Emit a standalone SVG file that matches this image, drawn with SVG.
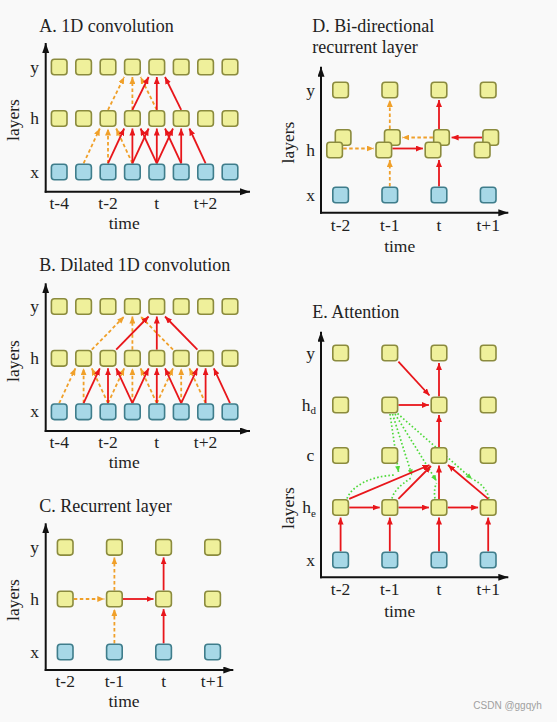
<svg xmlns="http://www.w3.org/2000/svg" width="557" height="722" viewBox="0 0 557 722">
<defs>
<style>
.by{fill:#eff09b;stroke:#8b8b3e;stroke-width:1.6}
.bb{fill:#a7d8e7;stroke:#3f7d8b;stroke-width:1.6}
.r{stroke:#e8161b;stroke-width:1.8;fill:none;marker-end:url(#mr)}
.o{stroke:#f0a02a;stroke-width:1.8;stroke-dasharray:3.5 2.5;fill:none;marker-end:url(#mo)}
.g{stroke:#4fd93a;stroke-width:1.7;stroke-dasharray:1.6 2.2;fill:none}
.gm{marker-end:url(#mg)}
.ax{stroke:#111;stroke-width:2;fill:none}
.axm{marker-end:url(#mk)}
text{font-family:"Liberation Serif","Times New Roman",serif;fill:#222}
.t{font-size:18px}
.l{font-size:17.5px;text-anchor:middle}
.le{font-size:17.5px;text-anchor:end}
.wm{font-family:"Liberation Sans",Arial,sans-serif;font-size:10px;fill:#a0a0a0}
</style>
<marker id="mr" markerUnits="userSpaceOnUse" markerWidth="8" markerHeight="6" refX="7" refY="3" orient="auto"><path d="M0,0 L7,3 L0,6 z" fill="#e8161b"/></marker>
<marker id="mo" markerUnits="userSpaceOnUse" markerWidth="8" markerHeight="6" refX="7" refY="3" orient="auto"><path d="M0,0 L7,3 L0,6 z" fill="#f0a02a"/></marker>
<marker id="mg" markerUnits="userSpaceOnUse" markerWidth="7" markerHeight="6" refX="6" refY="2.5" orient="auto"><path d="M0,0 L6,2.5 L0,5 z" fill="#4fd93a"/></marker>
<marker id="mk" markerUnits="userSpaceOnUse" markerWidth="11" markerHeight="8" refX="10" refY="3.5" orient="auto"><path d="M0,0 L10,3.5 L0,7 z" fill="#111"/></marker>
</defs>
<rect width="557" height="722" fill="#f9f9f9"/>

<g id="axes">
<path class="ax axm" d="M45.7,192.7 V43"/><path class="ax axm" d="M44.7,191.7 H250"/>
<path class="ax axm" d="M45.7,432 V283.3"/><path class="ax axm" d="M44.7,431 H250"/>
<path class="ax axm" d="M45.7,671 V523.3"/><path class="ax axm" d="M44.7,670 H233.3"/>
<path class="ax axm" d="M321,213.7 V66.7"/><path class="ax axm" d="M320,212.7 H508.3"/>
<path class="ax axm" d="M321,578.3 V331.7"/><path class="ax axm" d="M320,577.3 H508.3"/>
</g>

<g id="connectors">
<!-- A -->
<path class="o" d="M83.6,163.4 L99.8,128.5"/>
<path class="o" d="M108,163.4 L108,128.5"/>
<path class="o" d="M132.4,163.4 L116.2,128.5"/>
<path class="o" d="M108,109.9 L124.2,77"/>
<path class="o" d="M132.4,109.9 L132.4,77"/>
<path class="o" d="M156.8,109.9 L140.6,77"/>
<path class="r" d="M108,163.4 L124.2,128.5"/>
<path class="r" d="M132.4,163.4 L132.4,128.5"/>
<path class="r" d="M156.8,163.4 L140.6,128.5"/>
<path class="r" d="M132.4,163.4 L148.6,128.5"/>
<path class="r" d="M156.8,163.4 L156.8,128.5"/>
<path class="r" d="M181.2,163.4 L165,128.5"/>
<path class="r" d="M156.8,163.4 L173,128.5"/>
<path class="r" d="M181.2,163.4 L181.2,128.5"/>
<path class="r" d="M205.6,163.4 L189.4,128.5"/>
<path class="r" d="M132.4,109.9 L148.6,77"/>
<path class="r" d="M156.8,109.9 L156.8,77"/>
<path class="r" d="M181.2,109.9 L165,77"/>
<!-- B -->
<path class="o" d="M59.2,403.2 L75.4,368.3"/>
<path class="o" d="M83.6,403.2 L83.6,368.3"/>
<path class="o" d="M108,403.2 L91.8,368.3"/>
<path class="o" d="M108,403.2 L124.2,368.3"/>
<path class="o" d="M132.4,403.2 L132.4,368.3"/>
<path class="o" d="M156.8,403.2 L140.6,368.3"/>
<path class="o" d="M156.8,403.2 L173,368.3"/>
<path class="o" d="M181.2,403.2 L181.2,368.3"/>
<path class="o" d="M205.6,403.2 L189.4,368.3"/>
<path class="o" d="M91.8,349.7 L124.2,316.5"/>
<path class="o" d="M132.4,349.7 L132.4,316.5"/>
<path class="o" d="M173,349.7 L140.6,316.5"/>
<path class="r" d="M83.6,403.2 L99.8,368.3"/>
<path class="r" d="M108,403.2 L108,368.3"/>
<path class="r" d="M132.4,403.2 L116.2,368.3"/>
<path class="r" d="M132.4,403.2 L148.6,368.3"/>
<path class="r" d="M156.8,403.2 L156.8,368.3"/>
<path class="r" d="M181.2,403.2 L165,368.3"/>
<path class="r" d="M181.2,403.2 L197.4,368.3"/>
<path class="r" d="M205.6,403.2 L205.6,368.3"/>
<path class="r" d="M230,403.2 L213.8,368.3"/>
<path class="r" d="M116.2,349.7 L148.6,316.5"/>
<path class="r" d="M156.8,349.7 L156.8,316.5"/>
<path class="r" d="M197.4,349.7 L165,316.5"/>
<!-- C -->
<path class="o" d="M73.8,599 L104.3,599"/>
<path class="o" d="M114.4,643.4 L114.4,609.1"/>
<path class="o" d="M114.4,590.4 L114.4,557.4"/>
<path class="r" d="M123,599 L153.5,599"/>
<path class="r" d="M163.6,643.4 L163.6,609.1"/>
<path class="r" d="M163.6,590.4 L163.6,557.4"/>
<!-- D -->
<path class="o" d="M343.2,148.5 L373.7,148.5"/>
<path class="o" d="M389.8,186.4 L389.8,160"/>
<path class="o" d="M389.8,129 L389.8,100"/>
<path class="o" d="M432.9,137.5 L402.4,137.5"/>
<path class="r" d="M392.4,148.5 L422.9,148.5"/>
<path class="r" d="M482.1,137.5 L451.6,137.5"/>
<path class="r" d="M439,186.4 L439,160"/>
<path class="r" d="M439,129 L439,100"/>
<!-- E -->
<path class="g gm" d="M390,414 L398.5,472"/>
<path class="g gm" d="M392.5,414 L412,475.5"/>
<path class="g gm" d="M395,414 L436.5,481"/>
<path class="g gm" d="M397.5,413.5 L472,479"/>
<path class="g" d="M347,498.5 C352,486 370,476 396,475"/>
<path class="g" d="M392,498.5 Q394,489 411,478"/>
<path class="g" d="M435,498.5 Q433.5,490 436.5,483"/>
<path class="g" d="M489,498.5 Q486,486 474,480"/>
<path class="r" d="M398.4,361.6 L429.5,395.5"/>
<path class="r" d="M398.4,405 L428.9,405"/>
<path class="r" d="M439,396.4 L439,363.1"/>
<path class="r" d="M439,446.9 L439,415.1"/>
<path class="r" d="M439,498.9 L439,465.6"/>
<path class="r" d="M349.2,498.9 L429.5,465"/>
<path class="r" d="M398.4,498.9 L431,466"/>
<path class="r" d="M488.2,498.9 L448,465"/>
<path class="r" d="M349.2,507.5 L379.7,507.5"/>
<path class="r" d="M398.4,507.5 L428.9,507.5"/>
<path class="r" d="M447.6,507.5 L478.1,507.5"/>
<path class="r" d="M340.6,551.4 L340.6,517.6"/>
<path class="r" d="M389.8,551.4 L389.8,517.6"/>
<path class="r" d="M439,551.4 L439,517.6"/>
<path class="r" d="M488.2,551.4 L488.2,517.6"/>
</g>

<g id="panelA">
<g id="A-y0"><rect class="by" x="51.4" y="59.2" width="15.6" height="15.6" rx="3"/></g>
<g id="A-y1"><rect class="by" x="75.8" y="59.2" width="15.6" height="15.6" rx="3"/></g>
<g id="A-y2"><rect class="by" x="100.2" y="59.2" width="15.6" height="15.6" rx="3"/></g>
<g id="A-y3"><rect class="by" x="124.6" y="59.2" width="15.6" height="15.6" rx="3"/></g>
<g id="A-y4"><rect class="by" x="149" y="59.2" width="15.6" height="15.6" rx="3"/></g>
<g id="A-y5"><rect class="by" x="173.4" y="59.2" width="15.6" height="15.6" rx="3"/></g>
<g id="A-y6"><rect class="by" x="197.8" y="59.2" width="15.6" height="15.6" rx="3"/></g>
<g id="A-y7"><rect class="by" x="222.2" y="59.2" width="15.6" height="15.6" rx="3"/></g>
<g id="A-h0"><rect class="by" x="51.4" y="110.7" width="15.6" height="15.6" rx="3"/></g>
<g id="A-h1"><rect class="by" x="75.8" y="110.7" width="15.6" height="15.6" rx="3"/></g>
<g id="A-h2"><rect class="by" x="100.2" y="110.7" width="15.6" height="15.6" rx="3"/></g>
<g id="A-h3"><rect class="by" x="124.6" y="110.7" width="15.6" height="15.6" rx="3"/></g>
<g id="A-h4"><rect class="by" x="149" y="110.7" width="15.6" height="15.6" rx="3"/></g>
<g id="A-h5"><rect class="by" x="173.4" y="110.7" width="15.6" height="15.6" rx="3"/></g>
<g id="A-h6"><rect class="by" x="197.8" y="110.7" width="15.6" height="15.6" rx="3"/></g>
<g id="A-h7"><rect class="by" x="222.2" y="110.7" width="15.6" height="15.6" rx="3"/></g>
<g id="A-x0"><rect class="bb" x="51.4" y="164.2" width="15.6" height="15.6" rx="3"/></g>
<g id="A-x1"><rect class="bb" x="75.8" y="164.2" width="15.6" height="15.6" rx="3"/></g>
<g id="A-x2"><rect class="bb" x="100.2" y="164.2" width="15.6" height="15.6" rx="3"/></g>
<g id="A-x3"><rect class="bb" x="124.6" y="164.2" width="15.6" height="15.6" rx="3"/></g>
<g id="A-x4"><rect class="bb" x="149" y="164.2" width="15.6" height="15.6" rx="3"/></g>
<g id="A-x5"><rect class="bb" x="173.4" y="164.2" width="15.6" height="15.6" rx="3"/></g>
<g id="A-x6"><rect class="bb" x="197.8" y="164.2" width="15.6" height="15.6" rx="3"/></g>
<g id="A-x7"><rect class="bb" x="222.2" y="164.2" width="15.6" height="15.6" rx="3"/></g>
<text class="t" x="39.3" y="32.3">A. 1D convolution</text>
<text class="l" x="34.5" y="72.5">y</text>
<text class="l" x="34.5" y="124">h</text>
<text class="l" x="34.5" y="177.5">x</text>
<text class="l" transform="translate(18.5,120) rotate(-90)">layers</text>
<text class="l" x="59.2" y="208.5">t-4</text>
<text class="l" x="108" y="208.5">t-2</text>
<text class="l" x="156.8" y="208.5">t</text>
<text class="l" x="205.6" y="208.5">t+2</text>
<text class="l" x="124.2" y="229">time</text>
</g>

<g id="panelB">
<g id="B-y0"><rect class="by" x="51.4" y="298.7" width="15.6" height="15.6" rx="3"/></g>
<g id="B-y1"><rect class="by" x="75.8" y="298.7" width="15.6" height="15.6" rx="3"/></g>
<g id="B-y2"><rect class="by" x="100.2" y="298.7" width="15.6" height="15.6" rx="3"/></g>
<g id="B-y3"><rect class="by" x="124.6" y="298.7" width="15.6" height="15.6" rx="3"/></g>
<g id="B-y4"><rect class="by" x="149" y="298.7" width="15.6" height="15.6" rx="3"/></g>
<g id="B-y5"><rect class="by" x="173.4" y="298.7" width="15.6" height="15.6" rx="3"/></g>
<g id="B-y6"><rect class="by" x="197.8" y="298.7" width="15.6" height="15.6" rx="3"/></g>
<g id="B-y7"><rect class="by" x="222.2" y="298.7" width="15.6" height="15.6" rx="3"/></g>
<g id="B-h0"><rect class="by" x="51.4" y="350.5" width="15.6" height="15.6" rx="3"/></g>
<g id="B-h1"><rect class="by" x="75.8" y="350.5" width="15.6" height="15.6" rx="3"/></g>
<g id="B-h2"><rect class="by" x="100.2" y="350.5" width="15.6" height="15.6" rx="3"/></g>
<g id="B-h3"><rect class="by" x="124.6" y="350.5" width="15.6" height="15.6" rx="3"/></g>
<g id="B-h4"><rect class="by" x="149" y="350.5" width="15.6" height="15.6" rx="3"/></g>
<g id="B-h5"><rect class="by" x="173.4" y="350.5" width="15.6" height="15.6" rx="3"/></g>
<g id="B-h6"><rect class="by" x="197.8" y="350.5" width="15.6" height="15.6" rx="3"/></g>
<g id="B-h7"><rect class="by" x="222.2" y="350.5" width="15.6" height="15.6" rx="3"/></g>
<g id="B-x0"><rect class="bb" x="51.4" y="404" width="15.6" height="15.6" rx="3"/></g>
<g id="B-x1"><rect class="bb" x="75.8" y="404" width="15.6" height="15.6" rx="3"/></g>
<g id="B-x2"><rect class="bb" x="100.2" y="404" width="15.6" height="15.6" rx="3"/></g>
<g id="B-x3"><rect class="bb" x="124.6" y="404" width="15.6" height="15.6" rx="3"/></g>
<g id="B-x4"><rect class="bb" x="149" y="404" width="15.6" height="15.6" rx="3"/></g>
<g id="B-x5"><rect class="bb" x="173.4" y="404" width="15.6" height="15.6" rx="3"/></g>
<g id="B-x6"><rect class="bb" x="197.8" y="404" width="15.6" height="15.6" rx="3"/></g>
<g id="B-x7"><rect class="bb" x="222.2" y="404" width="15.6" height="15.6" rx="3"/></g>
<text class="t" x="39.3" y="270.7">B. Dilated 1D convolution</text>
<text class="l" x="34.5" y="312">y</text>
<text class="l" x="34.5" y="363.8">h</text>
<text class="l" x="34.5" y="417.3">x</text>
<text class="l" transform="translate(18.5,361) rotate(-90)">layers</text>
<text class="l" x="59.2" y="447.8">t-4</text>
<text class="l" x="108" y="447.8">t-2</text>
<text class="l" x="156.8" y="447.8">t</text>
<text class="l" x="205.6" y="447.8">t+2</text>
<text class="l" x="124.2" y="468.3">time</text>
</g>

<g id="panelC">
<g id="C-y0"><rect class="by" x="57.4" y="539.5" width="15.6" height="15.6" rx="3"/></g>
<g id="C-y1"><rect class="by" x="106.6" y="539.5" width="15.6" height="15.6" rx="3"/></g>
<g id="C-y2"><rect class="by" x="155.8" y="539.5" width="15.6" height="15.6" rx="3"/></g>
<g id="C-y3"><rect class="by" x="204.8" y="539.5" width="15.6" height="15.6" rx="3"/></g>
<g id="C-h0"><rect class="by" x="57.4" y="591.2" width="15.6" height="15.6" rx="3"/></g>
<g id="C-h1"><rect class="by" x="106.6" y="591.2" width="15.6" height="15.6" rx="3"/></g>
<g id="C-h2"><rect class="by" x="155.8" y="591.2" width="15.6" height="15.6" rx="3"/></g>
<g id="C-h3"><rect class="by" x="204.8" y="591.2" width="15.6" height="15.6" rx="3"/></g>
<g id="C-x0"><rect class="bb" x="57.4" y="644.2" width="15.6" height="15.6" rx="3"/></g>
<g id="C-x1"><rect class="bb" x="106.6" y="644.2" width="15.6" height="15.6" rx="3"/></g>
<g id="C-x2"><rect class="bb" x="155.8" y="644.2" width="15.6" height="15.6" rx="3"/></g>
<g id="C-x3"><rect class="bb" x="204.8" y="644.2" width="15.6" height="15.6" rx="3"/></g>
<text class="t" x="39.3" y="511.7">C. Recurrent layer</text>
<text class="l" x="34.5" y="552.8">y</text>
<text class="l" x="34.5" y="604.5">h</text>
<text class="l" x="34.5" y="657.5">x</text>
<text class="l" transform="translate(18.5,600) rotate(-90)">layers</text>
<text class="l" x="65.2" y="686.8">t-2</text>
<text class="l" x="114.4" y="686.8">t-1</text>
<text class="l" x="163.6" y="686.8">t</text>
<text class="l" x="212.6" y="686.8">t+1</text>
<text class="l" x="124" y="707.3">time</text>
</g>

<g id="panelD">
<g id="D-y0"><rect class="by" x="332.8" y="82.2" width="15.6" height="15.6" rx="3"/></g>
<g id="D-y1"><rect class="by" x="382" y="82.2" width="15.6" height="15.6" rx="3"/></g>
<g id="D-y2"><rect class="by" x="431.2" y="82.2" width="15.6" height="15.6" rx="3"/></g>
<g id="D-y3"><rect class="by" x="480.4" y="82.2" width="15.6" height="15.6" rx="3"/></g>
<g id="D-hb0"><rect class="by" x="335.3" y="129.7" width="15.6" height="15.6" rx="3"/></g>
<g id="D-hb1"><rect class="by" x="384.5" y="129.7" width="15.6" height="15.6" rx="3"/></g>
<g id="D-hb2"><rect class="by" x="433.7" y="129.7" width="15.6" height="15.6" rx="3"/></g>
<g id="D-hb3"><rect class="by" x="482.9" y="129.7" width="15.6" height="15.6" rx="3"/></g>
<g id="D-hf0"><rect class="by" x="326.8" y="142.2" width="15.6" height="15.6" rx="3"/></g>
<g id="D-hf1"><rect class="by" x="376" y="142.2" width="15.6" height="15.6" rx="3"/></g>
<g id="D-hf2"><rect class="by" x="425.2" y="142.2" width="15.6" height="15.6" rx="3"/></g>
<g id="D-hf3"><rect class="by" x="474.4" y="142.2" width="15.6" height="15.6" rx="3"/></g>
<g id="D-x0"><rect class="bb" x="332.8" y="187.2" width="15.6" height="15.6" rx="3"/></g>
<g id="D-x1"><rect class="bb" x="382" y="187.2" width="15.6" height="15.6" rx="3"/></g>
<g id="D-x2"><rect class="bb" x="431.2" y="187.2" width="15.6" height="15.6" rx="3"/></g>
<g id="D-x3"><rect class="bb" x="480.4" y="187.2" width="15.6" height="15.6" rx="3"/></g>
<text class="t" x="312.3" y="31.7">D. Bi-directional</text>
<text class="t" x="312.3" y="53.3">recurrent layer</text>
<text class="l" x="310.5" y="95.5">y</text>
<text class="l" x="310.5" y="155.5">h</text>
<text class="l" x="310.5" y="200.5">x</text>
<text class="l" transform="translate(294,142.5) rotate(-90)">layers</text>
<text class="l" x="340.6" y="231">t-2</text>
<text class="l" x="389.8" y="231">t-1</text>
<text class="l" x="439" y="231">t</text>
<text class="l" x="488.2" y="231">t+1</text>
<text class="l" x="399.7" y="251.5">time</text>
</g>

<g id="panelE">
<g id="E-y0"><rect class="by" x="332.8" y="345.2" width="15.6" height="15.6" rx="3"/></g>
<g id="E-y1"><rect class="by" x="382" y="345.2" width="15.6" height="15.6" rx="3"/></g>
<g id="E-y2"><rect class="by" x="431.2" y="345.2" width="15.6" height="15.6" rx="3"/></g>
<g id="E-y3"><rect class="by" x="480.4" y="345.2" width="15.6" height="15.6" rx="3"/></g>
<g id="E-hd0"><rect class="by" x="332.8" y="397.2" width="15.6" height="15.6" rx="3"/></g>
<g id="E-hd1"><rect class="by" x="382" y="397.2" width="15.6" height="15.6" rx="3"/></g>
<g id="E-hd2"><rect class="by" x="431.2" y="397.2" width="15.6" height="15.6" rx="3"/></g>
<g id="E-hd3"><rect class="by" x="480.4" y="397.2" width="15.6" height="15.6" rx="3"/></g>
<g id="E-c0"><rect class="by" x="332.8" y="447.7" width="15.6" height="15.6" rx="3"/></g>
<g id="E-c1"><rect class="by" x="382" y="447.7" width="15.6" height="15.6" rx="3"/></g>
<g id="E-c2"><rect class="by" x="431.2" y="447.7" width="15.6" height="15.6" rx="3"/></g>
<g id="E-c3"><rect class="by" x="480.4" y="447.7" width="15.6" height="15.6" rx="3"/></g>
<g id="E-he0"><rect class="by" x="332.8" y="499.7" width="15.6" height="15.6" rx="3"/></g>
<g id="E-he1"><rect class="by" x="382" y="499.7" width="15.6" height="15.6" rx="3"/></g>
<g id="E-he2"><rect class="by" x="431.2" y="499.7" width="15.6" height="15.6" rx="3"/></g>
<g id="E-he3"><rect class="by" x="480.4" y="499.7" width="15.6" height="15.6" rx="3"/></g>
<g id="E-x0"><rect class="bb" x="332.8" y="552.2" width="15.6" height="15.6" rx="3"/></g>
<g id="E-x1"><rect class="bb" x="382" y="552.2" width="15.6" height="15.6" rx="3"/></g>
<g id="E-x2"><rect class="bb" x="431.2" y="552.2" width="15.6" height="15.6" rx="3"/></g>
<g id="E-x3"><rect class="bb" x="480.4" y="552.2" width="15.6" height="15.6" rx="3"/></g>
<text class="t" x="312.3" y="318.3">E. Attention</text>
<text class="l" x="310.5" y="358.5">y</text>
<text class="le" x="316" y="410.5">h<tspan font-size="11" dy="3.5">d</tspan></text>
<text class="l" x="310.5" y="461">c</text>
<text class="le" x="316" y="513">h<tspan font-size="11" dy="3.5">e</tspan></text>
<text class="l" x="310.5" y="565.5">x</text>
<text class="l" transform="translate(294,508) rotate(-90)">layers</text>
<text class="l" x="340.6" y="595">t-2</text>
<text class="l" x="389.8" y="595">t-1</text>
<text class="l" x="439" y="595">t</text>
<text class="l" x="488.2" y="595">t+1</text>
<text class="l" x="399.7" y="616.7">time</text>
</g>

<text class="wm" x="473.3" y="709.3">CSDN @ggqyh</text>
</svg>
